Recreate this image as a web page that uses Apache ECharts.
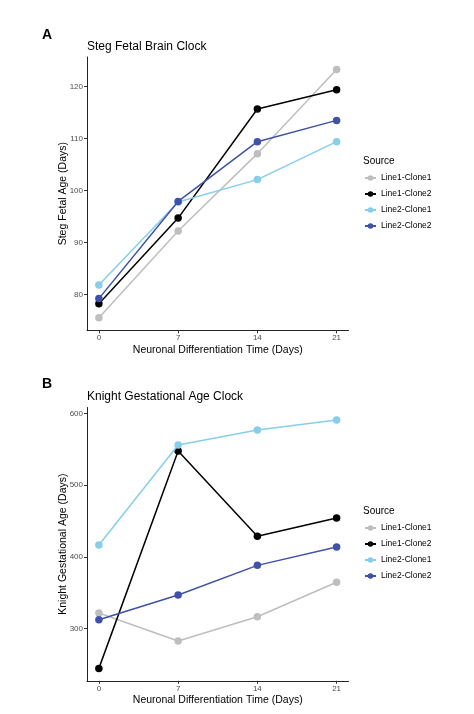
<!DOCTYPE html>
<html><head><meta charset="utf-8">
<script src="https://cdn.jsdelivr.net/npm/echarts@6/dist/echarts.min.js"></script>
<style>html,body{margin:0;padding:0;background:#fff}#c{width:474px;height:714px}</style>
</head><body><div id="c"></div>
<script>
const days = [0, 7, 14, 21];
const sources = ['Line1-Clone1', 'Line1-Clone2', 'Line2-Clone1', 'Line2-Clone2'];
const colors = ['#BEBEBE', '#000000', '#87CEEB', '#3F51A8'];
// Panel A: Steg Fetal Brain Clock
const stegL1C1 = [75.5, 92.2, 107.1, 123.3];
const stegL1C2 = [78.2, 94.7, 115.7, 119.4];
const stegL2C1 = [81.8, 97.8, 102.1, 109.4];
const stegL2C2 = [79.2, 97.9, 109.4, 113.5];
// Panel B: Knight Gestational Age Clock
const knightL1C1 = [321.8, 282.8, 316.7, 364.6];
const knightL1C2 = [244.7, 547.6, 428.7, 454.2];
const knightL2C1 = [416.6, 555.9, 576.8, 590.8];
const knightL2C2 = [312.5, 346.9, 388.2, 413.8];
const stegTicks = [80, 90, 100, 110, 120];
const knightTicks = [300, 400, 500, 600];

const stegData = [stegL1C1, stegL1C2, stegL2C1, stegL2C2];
const knightData = [knightL1C1, knightL1C2, knightL2C1, knightL2C2];
const FONT = '"Liberation Sans", Arial, sans-serif';

function xAxis(gi) {
  return {
    type: 'value', gridIndex: gi, min: -1.05, max: 22.05,
    name: 'Neuronal Differentiation Time (Days)', nameLocation: 'middle', nameGap: 14,
    nameMoveOverlap: false,
    nameTextStyle: { fontFamily: FONT, fontSize: 10.5, color: '#000' },
    splitLine: { show: false },
    axisLine: { onZero: false, lineStyle: { color: '#222', width: 1 } },
    axisTick: { customValues: days, length: 3, lineStyle: { color: '#333' } },
    axisLabel: { customValues: days, fontFamily: FONT, fontSize: 8, color: '#4D4D4D', margin: 3.5 }
  };
}
function yAxis(gi, min, max, ticks, name) {
  return {
    type: 'value', gridIndex: gi, min: min, max: max,
    name: name, nameLocation: 'middle', nameGap: 18, nameMoveOverlap: false,
    nameTextStyle: { fontFamily: FONT, fontSize: 10.5, color: '#000' },
    splitLine: { show: false },
    axisLine: { show: true, onZero: false, lineStyle: { color: '#222', width: 1 } },
    axisTick: { show: true, customValues: ticks, length: 3, lineStyle: { color: '#333' } },
    axisLabel: { customValues: ticks, fontFamily: FONT, fontSize: 8, color: '#4D4D4D', margin: 4 }
  };
}
const series = [];
[stegData, knightData].forEach((set, gi) => {
  set.forEach((vals, i) => {
    series.push({
      type: 'line', name: sources[i], xAxisIndex: gi, yAxisIndex: gi,
      data: days.map((d, k) => [d, vals[k]]),
      symbol: 'circle', symbolSize: 7.5, showSymbol: true,
      lineStyle: { color: colors[i], width: 1.5 },
      itemStyle: { color: colors[i] },
      z: i === 0 ? 2 : 3 + i
    });
  });
});
function legend(top) {
  return {
    orient: 'vertical', left: 364, top: top, data: sources, padding: 0,
    itemWidth: 11, itemHeight: 7, itemGap: 7,
    textStyle: { fontFamily: FONT, fontSize: 8.5, color: '#000' }
  };
}
function ttl(text, left, top, size, bold) {
  return { text: text, left: left, top: top, padding: 0,
    textStyle: { fontFamily: FONT, fontSize: size, fontWeight: bold ? 'bold' : 'normal', color: '#000' } };
}
const chart = echarts.init(document.getElementById('c'));
chart.setOption({
  backgroundColor: '#fff',
  animation: false,
  title: [
    ttl('A', 42, 28, 14, true),
    ttl('Steg Fetal Brain Clock', 87, 41, 12, false),
    ttl('Source', 363, 156, 10, false),
    ttl('B', 42, 377, 14, true),
    ttl('Knight Gestational Age Clock', 87, 391, 12, false),
    ttl('Source', 363, 506, 10, false)
  ],
  legend: [legend(173.5), legend(523.5)],
  grid: [
    { left: 87, top: 57, width: 261.5, height: 273.3 },
    { left: 87, top: 407.5, width: 261.5, height: 273.3 }
  ],
  xAxis: [xAxis(0), xAxis(1)],
  yAxis: [
    yAxis(0, 73.1, 125.7, stegTicks, 'Steg Fetal Age (Days)'),
    yAxis(1, 227.4, 608.1, knightTicks, 'Knight Gestational Age (Days)')
  ],
  series: series
});
</script></body></html>
